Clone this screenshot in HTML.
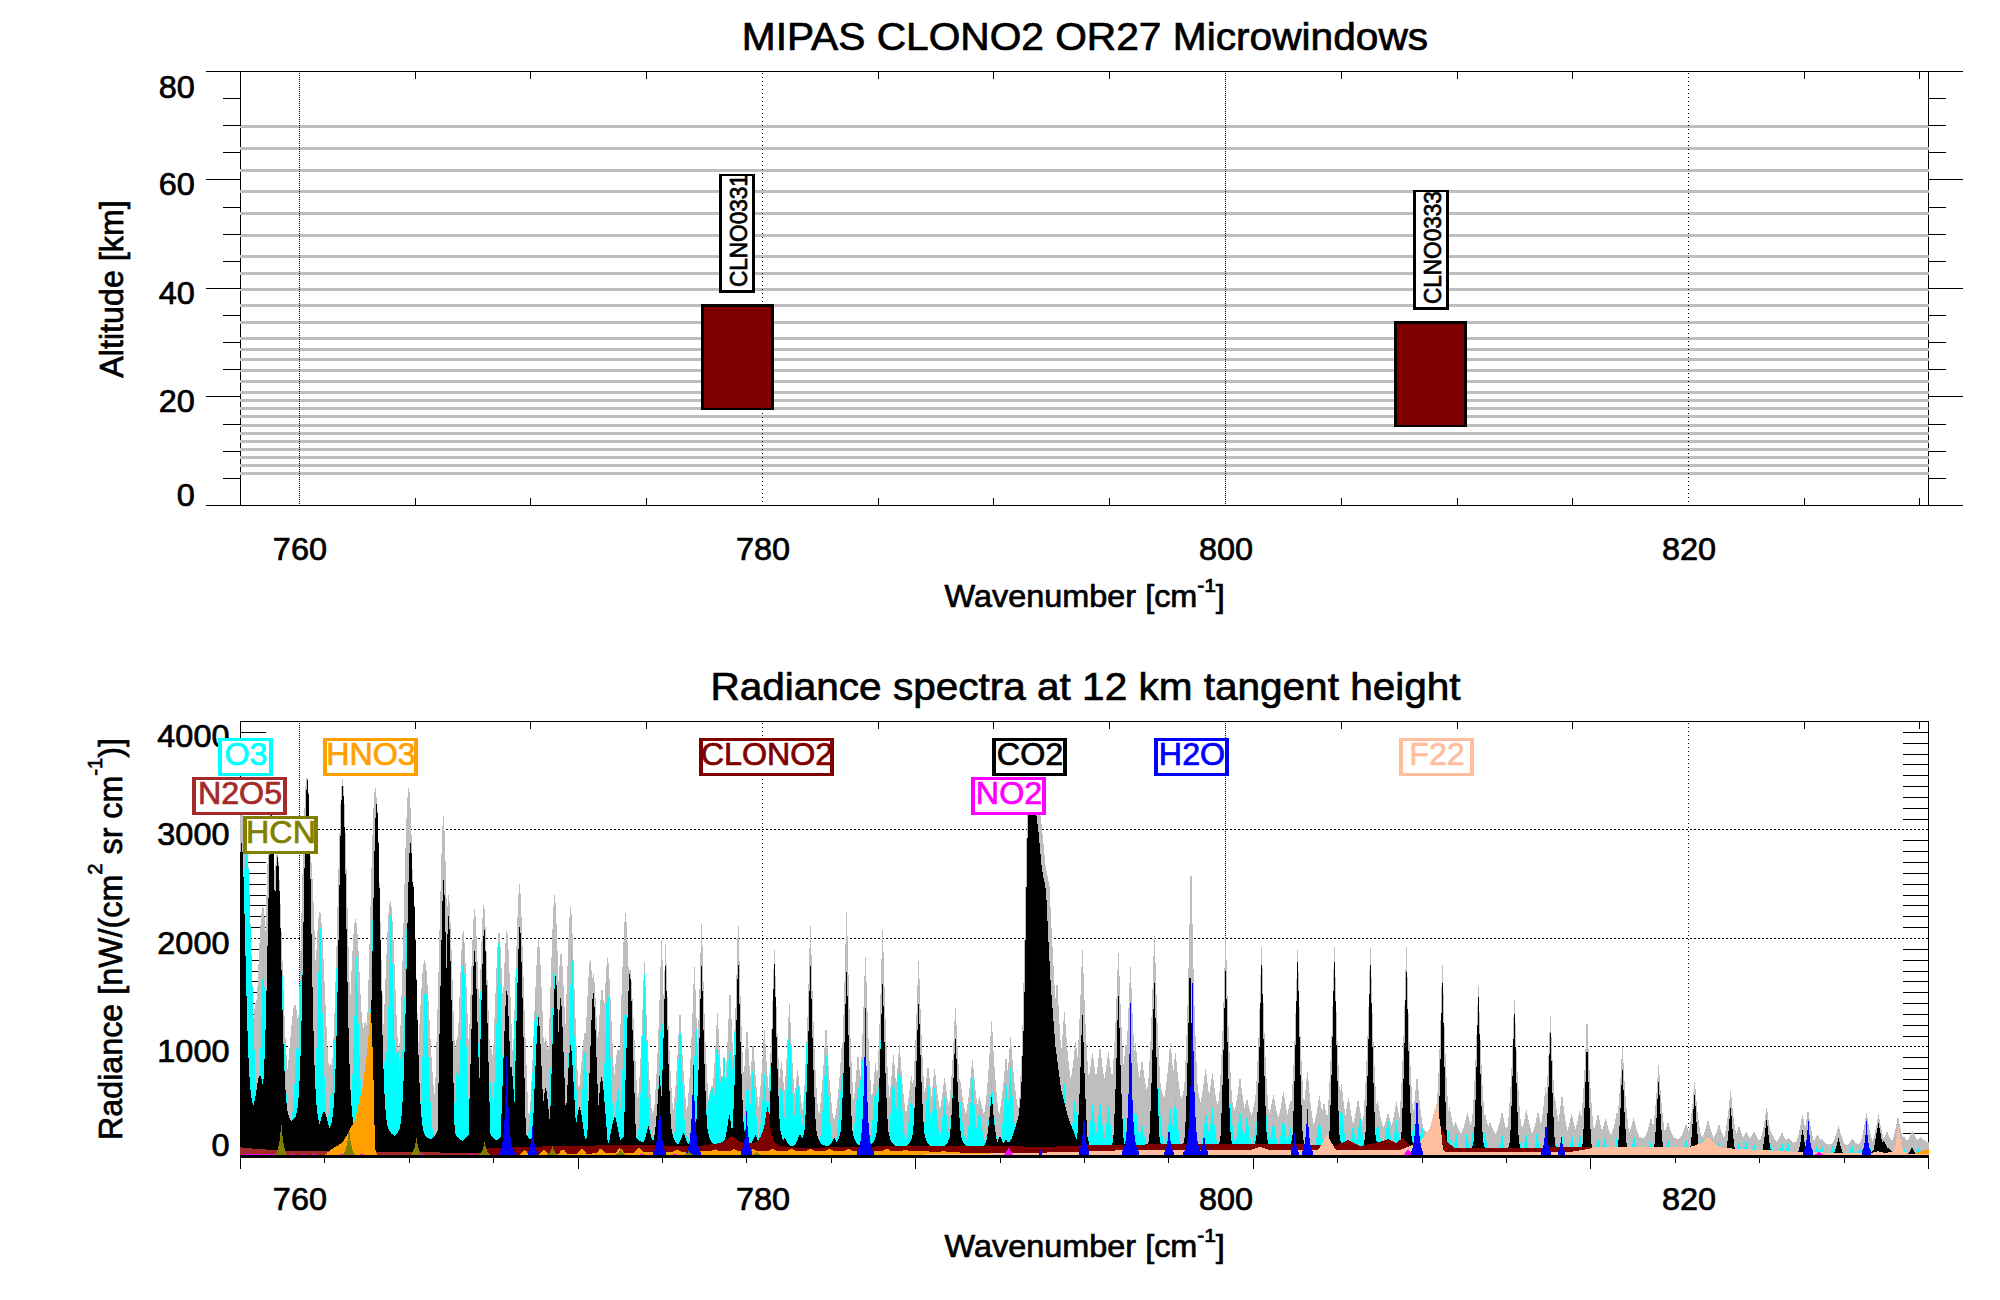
<!DOCTYPE html>
<html><head><meta charset="utf-8"><title>MIPAS CLONO2 OR27 Microwindows</title>
<style>html,body{margin:0;padding:0;background:#fff}svg{display:block}text{font-family:'Liberation Sans', sans-serif}</style>
</head><body>
<svg width="2000" height="1300" viewBox="0 0 2000 1300">
<rect width="2000" height="1300" fill="#fff"/>
<g shape-rendering="crispEdges">
<rect x="206" y="71" width="1757" height="1" fill="#000"/>
<rect x="206" y="505" width="1757" height="1" fill="#000"/>
<rect x="240" y="71" width="1" height="435" fill="#000"/>
<rect x="1928" y="71" width="1" height="435" fill="#000"/>
<rect x="240" y="472" width="1689" height="3" fill="#bebebe"/>
<rect x="240" y="464" width="1689" height="3" fill="#bebebe"/>
<rect x="240" y="456" width="1689" height="3" fill="#bebebe"/>
<rect x="240" y="448" width="1689" height="3" fill="#bebebe"/>
<rect x="240" y="440" width="1689" height="3" fill="#bebebe"/>
<rect x="240" y="432" width="1689" height="3" fill="#bebebe"/>
<rect x="240" y="424" width="1689" height="3" fill="#bebebe"/>
<rect x="240" y="415" width="1689" height="3" fill="#bebebe"/>
<rect x="240" y="407" width="1689" height="3" fill="#bebebe"/>
<rect x="240" y="399" width="1689" height="3" fill="#bebebe"/>
<rect x="240" y="391" width="1689" height="3" fill="#bebebe"/>
<rect x="240" y="380" width="1689" height="3" fill="#bebebe"/>
<rect x="240" y="369" width="1689" height="3" fill="#bebebe"/>
<rect x="240" y="358" width="1689" height="3" fill="#bebebe"/>
<rect x="240" y="348" width="1689" height="3" fill="#bebebe"/>
<rect x="240" y="337" width="1689" height="3" fill="#bebebe"/>
<rect x="240" y="321" width="1689" height="3" fill="#bebebe"/>
<rect x="240" y="304" width="1689" height="3" fill="#bebebe"/>
<rect x="240" y="288" width="1689" height="3" fill="#bebebe"/>
<rect x="240" y="272" width="1689" height="3" fill="#bebebe"/>
<rect x="240" y="255" width="1689" height="3" fill="#bebebe"/>
<rect x="240" y="234" width="1689" height="3" fill="#bebebe"/>
<rect x="240" y="212" width="1689" height="3" fill="#bebebe"/>
<rect x="240" y="190" width="1689" height="3" fill="#bebebe"/>
<rect x="240" y="169" width="1689" height="3" fill="#bebebe"/>
<rect x="240" y="147" width="1689" height="3" fill="#bebebe"/>
<rect x="240" y="125" width="1689" height="3" fill="#bebebe"/>
<rect x="206" y="505" width="35" height="1" fill="#000"/>
<rect x="1928" y="505" width="35" height="1" fill="#000"/>
<rect x="223" y="478" width="18" height="1" fill="#000"/>
<rect x="1928" y="478" width="18" height="1" fill="#000"/>
<rect x="223" y="451" width="18" height="1" fill="#000"/>
<rect x="1928" y="451" width="18" height="1" fill="#000"/>
<rect x="223" y="424" width="18" height="1" fill="#000"/>
<rect x="1928" y="424" width="18" height="1" fill="#000"/>
<rect x="206" y="396" width="35" height="1" fill="#000"/>
<rect x="1928" y="396" width="35" height="1" fill="#000"/>
<rect x="223" y="369" width="18" height="1" fill="#000"/>
<rect x="1928" y="369" width="18" height="1" fill="#000"/>
<rect x="223" y="342" width="18" height="1" fill="#000"/>
<rect x="1928" y="342" width="18" height="1" fill="#000"/>
<rect x="223" y="315" width="18" height="1" fill="#000"/>
<rect x="1928" y="315" width="18" height="1" fill="#000"/>
<rect x="206" y="288" width="35" height="1" fill="#000"/>
<rect x="1928" y="288" width="35" height="1" fill="#000"/>
<rect x="223" y="261" width="18" height="1" fill="#000"/>
<rect x="1928" y="261" width="18" height="1" fill="#000"/>
<rect x="223" y="234" width="18" height="1" fill="#000"/>
<rect x="1928" y="234" width="18" height="1" fill="#000"/>
<rect x="223" y="207" width="18" height="1" fill="#000"/>
<rect x="1928" y="207" width="18" height="1" fill="#000"/>
<rect x="206" y="179" width="35" height="1" fill="#000"/>
<rect x="1928" y="179" width="35" height="1" fill="#000"/>
<rect x="223" y="152" width="18" height="1" fill="#000"/>
<rect x="1928" y="152" width="18" height="1" fill="#000"/>
<rect x="223" y="125" width="18" height="1" fill="#000"/>
<rect x="1928" y="125" width="18" height="1" fill="#000"/>
<rect x="223" y="98" width="18" height="1" fill="#000"/>
<rect x="1928" y="98" width="18" height="1" fill="#000"/>
<rect x="206" y="71" width="35" height="1" fill="#000"/>
<rect x="1928" y="71" width="35" height="1" fill="#000"/>
<rect x="415" y="71" width="1" height="8" fill="#000"/>
<rect x="415" y="498" width="1" height="8" fill="#000"/>
<rect x="530" y="71" width="1" height="8" fill="#000"/>
<rect x="530" y="498" width="1" height="8" fill="#000"/>
<rect x="646" y="71" width="1" height="8" fill="#000"/>
<rect x="646" y="498" width="1" height="8" fill="#000"/>
<rect x="878" y="71" width="1" height="8" fill="#000"/>
<rect x="878" y="498" width="1" height="8" fill="#000"/>
<rect x="993" y="71" width="1" height="8" fill="#000"/>
<rect x="993" y="498" width="1" height="8" fill="#000"/>
<rect x="1109" y="71" width="1" height="8" fill="#000"/>
<rect x="1109" y="498" width="1" height="8" fill="#000"/>
<rect x="1341" y="71" width="1" height="8" fill="#000"/>
<rect x="1341" y="498" width="1" height="8" fill="#000"/>
<rect x="1457" y="71" width="1" height="8" fill="#000"/>
<rect x="1457" y="498" width="1" height="8" fill="#000"/>
<rect x="1572" y="71" width="1" height="8" fill="#000"/>
<rect x="1572" y="498" width="1" height="8" fill="#000"/>
<rect x="1804" y="71" width="1" height="8" fill="#000"/>
<rect x="1804" y="498" width="1" height="8" fill="#000"/>
<rect x="1919" y="71" width="1" height="8" fill="#000"/>
<rect x="1919" y="498" width="1" height="8" fill="#000"/>
</g>
<line x1="299.5" y1="73" x2="299.5" y2="505" stroke="#000" stroke-width="1" stroke-dasharray="1 1" shape-rendering="crispEdges"/>
<line x1="762.5" y1="73" x2="762.5" y2="505" stroke="#000" stroke-width="1" stroke-dasharray="1 3" shape-rendering="crispEdges"/>
<line x1="1225.5" y1="73" x2="1225.5" y2="505" stroke="#000" stroke-width="1" stroke-dasharray="1 1" shape-rendering="crispEdges"/>
<line x1="1688.5" y1="73" x2="1688.5" y2="505" stroke="#000" stroke-width="1" stroke-dasharray="1 3" shape-rendering="crispEdges"/>
<rect x="701" y="304" width="73" height="106" fill="#000" shape-rendering="crispEdges"/>
<rect x="704" y="307" width="67" height="101" fill="#800000" shape-rendering="crispEdges"/>
<rect x="1394" y="321" width="73" height="106" fill="#000" shape-rendering="crispEdges"/>
<rect x="1397" y="324" width="67" height="101" fill="#800000" shape-rendering="crispEdges"/>
<rect x="719" y="174" width="36" height="119" fill="#000" shape-rendering="crispEdges"/>
<rect x="722" y="176" width="30" height="114" fill="#fff" shape-rendering="crispEdges"/>
<text transform="translate(747,287) rotate(-90) scale(0.94,1)" font-size="24" text-anchor="start" fill="#000" stroke="#000" stroke-width="0.7">CLNO0331</text>
<rect x="1413" y="190" width="36" height="120" fill="#000" shape-rendering="crispEdges"/>
<rect x="1416" y="192" width="30" height="115" fill="#fff" shape-rendering="crispEdges"/>
<text transform="translate(1441,304) rotate(-90) scale(0.94,1)" font-size="24" text-anchor="start" fill="#000" stroke="#000" stroke-width="0.7">CLNO0333</text>
<text transform="translate(1085,50) scale(1.065,1)" font-size="38.2" text-anchor="middle" fill="#000" stroke="#000" stroke-width="0.7">MIPAS CLONO2 OR27 Microwindows</text>
<text transform="translate(194.8,97.5) scale(1.03,1)" font-size="31.5" text-anchor="end" fill="#000" stroke="#000" stroke-width="0.7">80</text>
<text transform="translate(194.8,195) scale(1.03,1)" font-size="31.5" text-anchor="end" fill="#000" stroke="#000" stroke-width="0.7">60</text>
<text transform="translate(194.8,303.5) scale(1.03,1)" font-size="31.5" text-anchor="end" fill="#000" stroke="#000" stroke-width="0.7">40</text>
<text transform="translate(194.8,412) scale(1.03,1)" font-size="31.5" text-anchor="end" fill="#000" stroke="#000" stroke-width="0.7">20</text>
<text transform="translate(194.8,506) scale(1.03,1)" font-size="31.5" text-anchor="end" fill="#000" stroke="#000" stroke-width="0.7">0</text>
<text transform="translate(299.9,560) scale(1.03,1)" font-size="31.5" text-anchor="middle" fill="#000" stroke="#000" stroke-width="0.7">760</text>
<text transform="translate(762.96,560) scale(1.03,1)" font-size="31.5" text-anchor="middle" fill="#000" stroke="#000" stroke-width="0.7">780</text>
<text transform="translate(1226.02,560) scale(1.03,1)" font-size="31.5" text-anchor="middle" fill="#000" stroke="#000" stroke-width="0.7">800</text>
<text transform="translate(1689.08,560) scale(1.03,1)" font-size="31.5" text-anchor="middle" fill="#000" stroke="#000" stroke-width="0.7">820</text>
<text transform="translate(944.5,607) scale(1.02,1)" font-size="31.8" text-anchor="start" fill="#000" stroke="#000" stroke-width="0.7">Wavenumber [cm</text>
<text transform="translate(1197.3,592.4) scale(1.2,1)" font-size="17.6" text-anchor="start" fill="#000" stroke="#000" stroke-width="0.7">-1</text>
<text transform="translate(1215.8,607) scale(1.02,1)" font-size="31.8" text-anchor="start" fill="#000" stroke="#000" stroke-width="0.7">]</text>
<text transform="translate(123,289) rotate(-90) scale(0.99,1)" font-size="32.6" text-anchor="middle" fill="#000" stroke="#000" stroke-width="0.7">Altitude [km]</text>
<g shape-rendering="crispEdges">
<rect x="240" y="721" width="1689" height="1" fill="#000"/>
<rect x="240" y="721" width="1" height="435" fill="#000"/>
<rect x="1928" y="721" width="1" height="435" fill="#000"/>
<rect x="240" y="1144" width="26" height="1" fill="#000"/>
<rect x="1903" y="1144" width="26" height="1" fill="#000"/>
<rect x="240" y="1133" width="26" height="1" fill="#000"/>
<rect x="1903" y="1133" width="26" height="1" fill="#000"/>
<rect x="240" y="1122" width="26" height="1" fill="#000"/>
<rect x="1903" y="1122" width="26" height="1" fill="#000"/>
<rect x="240" y="1112" width="26" height="1" fill="#000"/>
<rect x="1903" y="1112" width="26" height="1" fill="#000"/>
<rect x="240" y="1101" width="26" height="1" fill="#000"/>
<rect x="1903" y="1101" width="26" height="1" fill="#000"/>
<rect x="240" y="1090" width="26" height="1" fill="#000"/>
<rect x="1903" y="1090" width="26" height="1" fill="#000"/>
<rect x="240" y="1079" width="26" height="1" fill="#000"/>
<rect x="1903" y="1079" width="26" height="1" fill="#000"/>
<rect x="240" y="1068" width="26" height="1" fill="#000"/>
<rect x="1903" y="1068" width="26" height="1" fill="#000"/>
<rect x="240" y="1057" width="26" height="1" fill="#000"/>
<rect x="1903" y="1057" width="26" height="1" fill="#000"/>
<rect x="240" y="1036" width="26" height="1" fill="#000"/>
<rect x="1903" y="1036" width="26" height="1" fill="#000"/>
<rect x="240" y="1025" width="26" height="1" fill="#000"/>
<rect x="1903" y="1025" width="26" height="1" fill="#000"/>
<rect x="240" y="1014" width="26" height="1" fill="#000"/>
<rect x="1903" y="1014" width="26" height="1" fill="#000"/>
<rect x="240" y="1003" width="26" height="1" fill="#000"/>
<rect x="1903" y="1003" width="26" height="1" fill="#000"/>
<rect x="240" y="992" width="26" height="1" fill="#000"/>
<rect x="1903" y="992" width="26" height="1" fill="#000"/>
<rect x="240" y="981" width="26" height="1" fill="#000"/>
<rect x="1903" y="981" width="26" height="1" fill="#000"/>
<rect x="240" y="971" width="26" height="1" fill="#000"/>
<rect x="1903" y="971" width="26" height="1" fill="#000"/>
<rect x="240" y="960" width="26" height="1" fill="#000"/>
<rect x="1903" y="960" width="26" height="1" fill="#000"/>
<rect x="240" y="949" width="26" height="1" fill="#000"/>
<rect x="1903" y="949" width="26" height="1" fill="#000"/>
<rect x="240" y="927" width="26" height="1" fill="#000"/>
<rect x="1903" y="927" width="26" height="1" fill="#000"/>
<rect x="240" y="916" width="26" height="1" fill="#000"/>
<rect x="1903" y="916" width="26" height="1" fill="#000"/>
<rect x="240" y="905" width="26" height="1" fill="#000"/>
<rect x="1903" y="905" width="26" height="1" fill="#000"/>
<rect x="240" y="895" width="26" height="1" fill="#000"/>
<rect x="1903" y="895" width="26" height="1" fill="#000"/>
<rect x="240" y="884" width="26" height="1" fill="#000"/>
<rect x="1903" y="884" width="26" height="1" fill="#000"/>
<rect x="240" y="873" width="26" height="1" fill="#000"/>
<rect x="1903" y="873" width="26" height="1" fill="#000"/>
<rect x="240" y="862" width="26" height="1" fill="#000"/>
<rect x="1903" y="862" width="26" height="1" fill="#000"/>
<rect x="240" y="851" width="26" height="1" fill="#000"/>
<rect x="1903" y="851" width="26" height="1" fill="#000"/>
<rect x="240" y="840" width="26" height="1" fill="#000"/>
<rect x="1903" y="840" width="26" height="1" fill="#000"/>
<rect x="240" y="819" width="26" height="1" fill="#000"/>
<rect x="1903" y="819" width="26" height="1" fill="#000"/>
<rect x="240" y="808" width="26" height="1" fill="#000"/>
<rect x="1903" y="808" width="26" height="1" fill="#000"/>
<rect x="240" y="797" width="26" height="1" fill="#000"/>
<rect x="1903" y="797" width="26" height="1" fill="#000"/>
<rect x="240" y="786" width="26" height="1" fill="#000"/>
<rect x="1903" y="786" width="26" height="1" fill="#000"/>
<rect x="240" y="775" width="26" height="1" fill="#000"/>
<rect x="1903" y="775" width="26" height="1" fill="#000"/>
<rect x="240" y="764" width="26" height="1" fill="#000"/>
<rect x="1903" y="764" width="26" height="1" fill="#000"/>
<rect x="240" y="754" width="26" height="1" fill="#000"/>
<rect x="1903" y="754" width="26" height="1" fill="#000"/>
<rect x="240" y="743" width="26" height="1" fill="#000"/>
<rect x="1903" y="743" width="26" height="1" fill="#000"/>
<rect x="240" y="732" width="26" height="1" fill="#000"/>
<rect x="1903" y="732" width="26" height="1" fill="#000"/>
<rect x="415" y="721" width="1" height="8" fill="#000"/>
<rect x="530" y="721" width="1" height="8" fill="#000"/>
<rect x="646" y="721" width="1" height="8" fill="#000"/>
<rect x="878" y="721" width="1" height="8" fill="#000"/>
<rect x="993" y="721" width="1" height="8" fill="#000"/>
<rect x="1109" y="721" width="1" height="8" fill="#000"/>
<rect x="1341" y="721" width="1" height="8" fill="#000"/>
<rect x="1457" y="721" width="1" height="8" fill="#000"/>
<rect x="1572" y="721" width="1" height="8" fill="#000"/>
<rect x="1804" y="721" width="1" height="8" fill="#000"/>
<rect x="1919" y="721" width="1" height="8" fill="#000"/>
</g>
<line x1="242" y1="1046.5" x2="1928" y2="1046.5" stroke="#000" stroke-width="1" stroke-dasharray="2 2" shape-rendering="crispEdges"/>
<line x1="242" y1="938.5" x2="1928" y2="938.5" stroke="#000" stroke-width="1" stroke-dasharray="2 2" shape-rendering="crispEdges"/>
<line x1="242" y1="829.5" x2="1928" y2="829.5" stroke="#000" stroke-width="1" stroke-dasharray="2 2" shape-rendering="crispEdges"/>
<line x1="299.5" y1="723" x2="299.5" y2="1155" stroke="#000" stroke-width="1" stroke-dasharray="1 1" shape-rendering="crispEdges"/>
<line x1="762.5" y1="723" x2="762.5" y2="1155" stroke="#000" stroke-width="1" stroke-dasharray="1 3" shape-rendering="crispEdges"/>
<line x1="1225.5" y1="723" x2="1225.5" y2="1155" stroke="#000" stroke-width="1" stroke-dasharray="1 1" shape-rendering="crispEdges"/>
<line x1="1688.5" y1="723" x2="1688.5" y2="1155" stroke="#000" stroke-width="1" stroke-dasharray="1 3" shape-rendering="crispEdges"/>
<g shape-rendering="crispEdges">
<path d="M240,1155V780H241V782H242V797H243V821H244V853H245V845H246V836H247V845H248V867H249V894H250V924H251V954H252V985H253V1017H254V1009H255V1003H256V1000H257V986H258V964H259V943H260V925H261V913H262V907H263V908H264V917H265V931H266V896H267V864H268V835H269V815H270V805H271V806H272V818H273V841H274V870H275V865H276V855H277V854H278V862H279V880H280V904H281V932H282V961H283V990H284V1016H285V1038H286V1055H287V1069H288V1060H289V1048H290V1037H291V1025H292V1016H293V1008H294V1005H296V1010H297V1018H298V1015H299V986H300V951H301V913H302V874H303V838H304V808H305V787H306V778H308V792H309V825H310V856H311V863H312V879H313V902H314V930H315V960H316V950H317V931H318V918H319V912H320V913H321V923H322V938H323V959H324V982H325V1005H326V1027H327V1047H328V1063H329V1065H330V1064H331V1065H332V1058H333V1038H334V1013H335V982H336V946H337V907H338V869H339V833H340V804H341V786H342V779H343V786H344V804H345V833H346V869H347V908H348V947H349V982H350V994H351V971H352V951H353V934H354V923H355V919H356V923H357V934H358V951H359V972H360V994H361V1012H362V1023H363V1028H364V1023H365V1022H366V1025H367V1012H368V980H369V944H370V906H371V868H372V835H373V808H374V792H375V788H376V797H377V811H378V841H379V883H380V922H381V960H382V994H383V1024H384V1004H385V979H386V954H387V932H388V914H389V904H390V901H391V907H392V921H393V940H394V964H395V990H396V1015H397V1037H398V1050H399V1043H400V1025H401V995H402V961H403V923H404V884H405V848H406V818H407V797H408V788H409V792H410V808H411V835H412V869H413V885H414V905H415V938H416V978H417V1013H418V1042H419V1024H420V1005H421V988H422V973H423V964H424V960H425V963H426V971H427V985H428V1001H429V1020H430V1039H431V1057H432V1072H433V1085H434V1094H435V1077H436V1042H437V1009H438V972H439V930H440V891H441V854H442V826H443V816H444V831H445V861H446V898H447V906H448V895H449V902H450V923H451V950H452V980H453V1011H454V1040H455V1048H456V1040H457V1037H458V1023H459V997H460V972H461V950H462V934H463V931H464V943H465V963H466V987H467V1013H468V1039H469V1024H470V995H471V966H472V940H473V919H474V909H475V916H476V936H477V961H478V989H479V998H480V969H481V941H482V918H483V905H484V909H485V927H486V952H487V980H488V1010H489V1039H490V1048H491V1049H492V1055H493V1045H494V1018H495V993H496V968H497V947H498V933H500V947H501V968H502V993H503V987H504V963H505V943H506V931H507V934H508V950H509V973H510V997H511V1024H512V1050H513V1039H514V1010H515V977H516V946H517V917H518V894H519V884H520V894H521V917H522V946H523V977H524V1010H525V1039H526V1065H527V1092H528V1113H529V1114H530V1101H531V1081H532V1060H533V1036H534V1011H535V987H536V965H537V947H538V940H539V947H540V965H541V987H542V1011H543V1037H544V1042H545V1038H546V1041H547V1049H548V1046H549V1018H550V987H551V957H552V929H553V906H554V895H555V903H556V924H557V951H558V981H559V966H560V954H562V966H563V986H564V1007H565V1024H566V994H567V966H568V939H569V917H570V907H571V914H572V934H573V960H574V989H575V1018H576V1046H577V1070H578V1087H579V1085H580V1074H581V1062H582V1050H583V1040H584V1033H586V1017H587V996H588V977H589V963H590V960H591V970H592V978H593V974H594V982H595V998H596V1017H597V1037H598V1032H599V1015H600V1000H601V990H603V1000H604V1003H605V983H606V966H607V958H608V963H609V979H610V999H611V1021H612V1043H613V1066H614V1074H615V1064H616V1055H617V1050H620V1024H621V995H622V967H623V942H624V922H625V913H626V922H627V942H628V967H629V970H631V981H632V999H633V1018H634V1040H635V1061H636V1080H637V1097H638V1093H639V1077H640V1058H641V1036H642V1010H643V980H644V962H645V986H646V1015H647V1040H648V1062H649V1080H650V1095H651V1108H652V1113H653V1111H654V1105H655V1090H656V1074H657V1053H658V1029H659V1000H660V967H661V940H662V960H663V994H664V971H665V944H666V964H667V997H668V1026H669V1050H670V1071H671V1088H672V1103H673V1109H674V1098H675V1086H676V1071H677V1055H678V1035H679V1015H681V1035H682V1055H683V1071H684V1085H685V1098H686V1109H687V1106H688V1093H689V1078H690V1059H691V1038H692V1013H693V984H694V967H695V990H696V1018H697V1043H698V1020H699V989H700V953H701V924H702V946H703V982H704V1014H705V1042H706V1064H707V1083H708V1099H709V1094H710V1090H711V1086H713V1078H714V1063H715V1045H716V1025H717V1013H718V1029H719V1049H720V1067H721V1076H723V1057H725V1077H726V1062H727V1042H728V1019H729V995H731V1019H732V1042H733V1055H734V1030H735V1008H736V975H737V938H738V926H739V961H740V996H741V1026H742V1052H743V1072H744V1066H745V1049H746V1032H748V1049H749V1066H750V1075H751V1061H752V1046H754V1061H755V1075H756V1087H757V1097H758V1106H759V1097H760V1086H761V1073H762V1058H763V1040H764V1030H765V1044H766V1061H767V1076H768V1088H769V1074H770V1053H771V1029H772V1001H773V969H774V950H775V976H776V1007H777V1034H778V1058H779V1077H780V1068H781V1061H782V1070H783V1082H784V1090H785V1076H786V1059H787V1040H788V1017H789V1004H790V1022H791V1044H792V1063H793V1079H794V1093H795V1088H796V1078H797V1070H798V1076H799V1086H800V1095H801V1103H802V1109H803V1101H804V1085H805V1064H806V1041H807V1017H808V984H809V948H810V926H811V955H812V991H813V1022H814V1049H815V1070H816V1088H817V1104H818V1111H819V1113H820V1103H821V1092H822V1080H823V1065H824V1048H825V1030H827V1048H828V1065H829V1080H830V1092H831V1103H832V1113H833V1118H834V1119H835V1115H836V1108H837V1099H838V1089H839V1077H840V1063H841V1048H842V1043H843V1015H844V982H845V944H846V912H847V936H848V975H849V1009H850V1038H851V1062H852V1082H853V1099H854V1093H855V1082H856V1070H857V1057H859V1070H860V1076H861V1057H862V1034H863V1007H864V976H865V957H866V982H867V1012H868V1039H869V1061H870V1080H871V1095H872V1093H873V1084H874V1072H875V1063H876V1070H877V1071H878V1050H879V1024H880V994H881V959H882V930H883V952H884V987H885V1019H886V1045H887V1067H888V1085H889V1097H890V1087H891V1076H892V1063H893V1055H894V1065H895V1078H896V1081H897V1068H898V1054H899V1045H900V1057H901V1071H902V1084H903V1094H904V1103H905V1111H907V1105H908V1098H909V1090H910V1081H911V1076H912V1083H913V1080H914V1061H915V1040H916V1014H917V985H918V961H919V979H920V1009H921V1035H922V1057H923V1076H924V1092H925V1088H926V1078H927V1068H929V1078H930V1088H931V1096H932V1087H933V1077H934V1069H935V1075H936V1085H937V1094H938V1101H939V1108H940V1106H941V1100H942V1093H943V1085H944V1078H945V1083H946V1091H947V1099H948V1105H949V1101H950V1090H951V1076H952V1060H953V1042H954V1021H955V1008H956V1025H957V1046H958V1064H959V1079H960V1082H961V1089H962V1097H963V1103H964V1108H965V1113H966V1111H967V1104H968V1097H969V1088H970V1078H971V1067H972V1060H973V1069H974V1080H975V1090H976V1098H977V1104H978V1100H979V1097H980V1101H981V1105H982V1109H983V1113H984V1112H985V1105H986V1095H987V1083H988V1070H989V1054H990V1036H991V1021H992V1032H993V1051H994V1067H995V1080H996V1092H997V1103H998V1111H999V1113H1000V1107H1001V1099H1002V1091H1003V1082H1004V1071H1005V1059H1007V1070H1008V1063H1009V1049H1010V1037H1011V1046H1012V1060H1013V1072H1014V1083H1015V1091H1016V1099H1017V1105H1018V1107H1019V1097H1020V1076H1021V1056H1022V1025H1023V983H1024V940H1025V887H1026V838H1027V814H1028V812H1029V811H1030V810H1036V809H1038V808H1040V816H1041V824H1042V834H1043V844H1044V855H1045V866H1046V871H1047V876H1048V881H1049V886H1050V907H1051V928H1052V947H1053V966H1054V985H1055V998H1056V985H1058V1005H1059V1024H1060V1040H1061V1048H1062V1035H1063V1021H1064V1012H1065V1024H1066V1038H1067V1051H1068V1061H1069V1070H1070V1078H1071V1075H1072V1068H1073V1060H1074V1050H1075V1042H1076V1048H1077V1057H1078V1040H1079V1019H1080V995H1081V967H1082V950H1083V973H1084V1000H1085V1024H1086V1044H1087V1061H1088V1075H1089V1073H1090V1066H1091V1058H1092V1053H1093V1059H1094V1067H1095V1074H1097V1067H1098V1058H1099V1049H1101V1058H1102V1067H1103V1074H1104V1078H1105V1072H1106V1065H1107V1057H1108V1052H1109V1059H1110V1067H1111V1074H1113V1059H1114V1042H1115V1022H1116V998H1117V970H1118V953H1119V976H1120V1004H1121V1027H1122V1047H1123V1064H1124V1056H1125V1045H1127V1031H1128V1008H1129V983H1130V967H1131V988H1132V1013H1133V1035H1134V1050H1135V1043H1136V1052H1137V1063H1138V1072H1139V1077H1140V1070H1141V1062H1143V1070H1144V1078H1145V1084H1146V1089H1147V1087H1148V1078H1149V1061H1150V1041H1151V1017H1152V989H1153V956H1154V936H1155V963H1156V995H1157V1023H1158V1046H1159V1066H1160V1083H1161V1090H1162V1094H1163V1097H1164V1096H1165V1090H1166V1082H1167V1073H1168V1063H1169V1050H1170V1043H1171V1053H1172V1065H1173V1070H1174V1059H1175V1053H1176V1062H1177V1072H1178V1081H1179V1089H1180V1096H1181V1098H1182V1095H1183V1091H1184V1082H1185V1061H1186V1035H1187V1006H1188V968H1189V924H1190V876H1192V924H1193V969H1194V1006H1195V1036H1196V1062H1197V1084H1198V1093H1199V1098H1200V1102H1201V1097H1202V1091H1203V1084H1204V1076H1205V1069H1206V1074H1207V1083H1208V1091H1209V1093H1210V1086H1211V1078H1212V1073H1213V1080H1214V1088H1215V1095H1216V1101H1217V1104H1218V1101H1219V1092H1220V1075H1221V1055H1222V1031H1223V1002H1224V968H1225V939H1226V960H1227V996H1228V1026H1229V1052H1230V1072H1231V1090H1232V1102H1233V1107H1234V1110H1235V1107H1236V1101H1237V1095H1238V1087H1239V1079H1241V1088H1242V1095H1243V1102H1244V1108H1245V1104H1246V1100H1248V1105H1249V1109H1250V1112H1251V1115H1252V1112H1253V1107H1254V1102H1255V1095H1256V1081H1257V1061H1258V1038H1259V1009H1260V975H1261V947H1262V968H1263V1003H1264V1033H1265V1057H1266V1078H1267V1095H1268V1109H1269V1113H1270V1109H1271V1104H1272V1099H1273V1095H1274V1100H1275V1106H1276V1111H1277V1115H1278V1117H1279V1113H1280V1109H1281V1103H1282V1096H1283V1092H1284V1098H1285V1104H1286V1110H1287V1114H1288V1109H1289V1104H1290V1101H1292V1084H1293V1065H1294V1041H1295V1013H1296V979H1297V950H1298V972H1299V1007H1300V1036H1301V1061H1302V1081H1303V1099H1304V1100H1305V1090H1306V1079H1307V1072H1308V1081H1309V1093H1310V1103H1311V1111H1312V1118H1313V1124H1314V1122H1315V1118H1316V1113H1317V1107H1318V1100H1319V1096H1320V1102H1321V1108H1322V1110H1323V1104H1325V1110H1326V1115H1328V1100H1329V1082H1330V1061H1331V1035H1332V1006H1333V969H1334V947H1335V977H1336V1012H1337V1041H1338V1065H1339V1086H1340V1090H1341V1084H1342V1092H1343V1101H1344V1109H1345V1115H1346V1109H1347V1102H1348V1098H1349V1103H1350V1110H1351V1116H1352V1121H1353V1123H1354V1118H1355V1113H1356V1107H1357V1101H1359V1107H1360V1113H1361V1119H1362V1121H1363V1116H1364V1100H1365V1083H1366V1061H1367V1036H1368V1007H1369V970H1370V948H1371V978H1372V1013H1373V1042H1374V1066H1375V1086H1376V1104H1377V1101H1378V1105H1379V1111H1380V1117H1381V1121H1382V1125H1383V1127H1384V1125H1385V1122H1386V1118H1387V1114H1389V1118H1390V1122H1391V1125H1392V1122H1393V1117H1394V1112H1395V1106H1396V1102H1397V1107H1398V1113H1399V1117H1400V1101H1401V1083H1402V1061H1403V1036H1404V1006H1405V970H1406V947H1407V977H1408V1013H1409V1042H1410V1066H1411V1087H1412V1104H1413V1110H1414V1101H1415V1090H1416V1079H1418V1090H1419V1101H1420V1110H1421V1117H1422V1124H1423V1129H1424V1130H1425V1131H1426V1132H1427V1133H1429V1132H1431V1131H1432V1129H1433V1128H1434V1125H1435V1122H1436V1110H1437V1093H1438V1073H1439V1049H1440V1020H1441V987H1442V965H1443V994H1444V1026H1445V1054H1446V1077H1447V1096H1448V1111H1449V1107H1450V1112H1451V1117H1452V1122H1453V1126H1454V1124H1455V1122H1456V1124H1457V1127H1458V1129H1459V1131H1460V1133H1462V1130H1463V1128H1464V1124H1465V1120H1466V1116H1467V1113H1468V1117H1469V1121H1470V1125H1471V1122H1472V1114H1473V1099H1474V1081H1475V1060H1476V1035H1477V1005H1478V986H1479V1012H1480V1040H1481V1065H1482V1085H1483V1102H1484V1115H1486V1120H1487V1124H1488V1126H1489V1123H1491V1126H1492V1128H1493V1131H1494V1132H1495V1134H1496V1132H1497V1130H1498V1126H1499V1123H1500V1118H1501V1113H1503V1118H1504V1123H1505V1127H1506V1128H1507V1126H1508V1117H1509V1103H1510V1087H1511V1068H1512V1045H1513V1017H1514V1000H1515V1023H1516V1050H1517V1072H1518V1090H1519V1106H1520V1119H1521V1126H1522V1127H1523V1124H1524V1119H1525V1113H1526V1110H1527V1115H1528V1120H1529V1124H1530V1128H1531V1132H1532V1133H1533V1130H1534V1127H1535V1123H1536V1118H1537V1113H1539V1118H1540V1123H1541V1121H1542V1114H1543V1106H1544V1096H1545V1087H1546V1093H1547V1076H1548V1056H1549V1032H1550V1016H1551V1037H1552V1060H1553V1080H1554V1097H1555V1101H1556V1109H1557V1116H1558V1121H1559V1114H1560V1106H1561V1097H1563V1106H1564V1114H1565V1121H1566V1126H1567V1130H1568V1127H1569V1123H1570V1118H1571V1114H1572V1117H1573V1122H1574V1126H1575V1129H1576V1125H1577V1121H1578V1116H1579V1111H1580V1114H1581V1116H1582V1103H1583V1088H1584V1070H1585V1049H1586V1024H1588V1049H1589V1070H1590V1088H1591V1103H1592V1116H1593V1127H1594V1128H1595V1125H1596V1120H1597V1115H1599V1120H1600V1125H1601V1129H1603V1126H1604V1122H1605V1119H1606V1121H1607V1125H1608V1129H1609V1132H1610V1134H1612V1131H1613V1128H1614V1124H1615V1119H1616V1113H1618V1106H1619V1093H1620V1078H1621V1059H1622V1047H1623V1063H1624V1081H1625V1096H1626V1108H1627V1119H1628V1128H1629V1132H1630V1129H1631V1126H1632V1122H1633V1118H1634V1121H1635V1125H1636V1129H1637V1132H1638V1134H1639V1137H1641V1138H1644V1137H1645V1136H1646V1133H1647V1131H1648V1127H1649V1123H1650V1119H1652V1124H1654V1115H1655V1105H1656V1093H1657V1078H1658V1065H1659V1075H1660V1090H1661V1103H1662V1113H1663V1122H1664V1130H1666V1127H1667V1123H1669V1127H1670V1130H1671V1133H1672V1135H1673V1137H1674V1138H1676V1139H1679V1138H1680V1137H1681V1136H1682V1134H1683V1131H1684V1128H1685V1125H1687V1128H1688V1131H1689V1128H1690V1122H1691V1113H1692V1104H1693V1092H1694V1082H1695V1089H1696V1101H1697V1112H1698V1120H1699V1127H1700V1133H1701V1136H1702V1137H1703V1135H1704V1132H1705V1129H1706V1125H1707V1121H1709V1125H1710V1129H1711V1132H1712V1135H1713V1138H1714V1136H1715V1134H1716V1132H1717V1129H1718V1125H1720V1129H1721V1132H1722V1134H1723V1137H1724V1136H1725V1131H1726V1125H1727V1118H1728V1110H1729V1100H1730V1091H1731V1097H1732V1108H1733V1117H1734V1124H1735V1130H1736V1133H1737V1130H1738V1127H1740V1130H1741V1133H1742V1136H1743V1137H1744V1135H1745V1133H1746V1132H1747V1134H1748V1136H1749V1137H1750V1138H1751V1136H1752V1134H1753V1132H1755V1134H1756V1136H1757V1138H1758V1140H1760V1139H1761V1136H1762V1132H1763V1127H1764V1121H1765V1114H1766V1108H1767V1112H1768V1120H1769V1126H1770V1131H1771V1133H1772V1135H1773V1137H1774V1139H1775V1140H1776V1142H1777V1140H1778V1139H1779V1137H1780V1136H1781V1133H1783V1136H1784V1138H1785V1139H1786V1140H1787V1139H1788V1138H1789V1139H1790V1140H1791V1141H1792V1142H1793V1143H1794V1142H1796V1141H1797V1138H1798V1135H1799V1130H1800V1125H1801V1119H1802V1115H1803V1119H1804V1125H1805V1126H1806V1119H1807V1112H1809V1119H1810V1126H1811V1131H1812V1136H1813V1140H1815V1138H1816V1136H1817V1135H1818V1136H1819V1138H1820V1140H1821V1139H1823V1141H1824V1142H1825V1143H1826V1144H1828V1145H1829V1144H1832V1143H1833V1141H1834V1139H1835V1136H1836V1133H1837V1129H1838V1126H1839V1129H1840V1133H1841V1136H1842V1139H1843V1142H1844V1144H1846V1145H1848V1144H1849V1143H1850V1141H1851V1140H1852V1139H1853V1140H1854V1141H1855V1143H1857V1144H1859V1143H1860V1142H1861V1139H1862V1135H1863V1130H1864V1124H1865V1118H1866V1113H1867V1118H1868V1124H1869V1130H1870V1134H1871V1138H1872V1141H1873V1138H1874V1135H1875V1130H1876V1125H1877V1119H1878V1114H1879V1119H1880V1125H1881V1130H1882V1134H1883V1138H1884V1137H1885V1135H1886V1132H1888V1135H1889V1137H1890V1139H1891V1140H1893V1137H1894V1133H1895V1129H1896V1124H1897V1118H1899V1124H1900V1129H1901V1133H1902V1136H1903V1137H1905V1139H1906V1140H1908V1139H1909V1137H1910V1135H1911V1133H1912V1131H1913V1133H1914V1135H1915V1137H1916V1139H1917V1140H1918V1139H1919V1138H1920V1137H1921V1138H1922V1139H1923V1140H1925V1141H1926V1142H1929V1155Z" fill="#bebebe"/>
<path d="M240,1155V987H241V956H242V926H243V896H244V869H245V847H246V838H247V847H248V869H249V896H250V926H251V956H252V987H253V1019H254V1050H255V1082H256V1114H257V1116H258V1097H259V1074H260V1048H261V1016H262V979H263V957H264V987H265V1023H266V1053H267V1079H268V1101H269V1120H270V1128H271V1132H272V1134H273V1132H274V1129H275V1124H276V1106H277V1085H278V1061H279V1032H280V997H281V964H282V976H283V1012H284V1044H285V1071H286V1094H287V1113H288V1126H289V1130H290V1133H291V1123H292V1112H293V1099H294V1084H295V1066H296V1048H297V1054H298V1050H299V1018H300V981H301V950H302V973H303V1011H304V1044H305V1072H306V1095H307V1116H308V1126H309V1131H310V1134H311V1131H312V1127H313V1121H314V1102H315V1077H316V1048H317V1013H318V972H319V928H321V972H322V1013H323V1048H324V1077H325V1102H326V1121H327V1123H328V1115H329V1106H330V1095H331V1088H332V1093H333V1069H334V1040H335V1007H336V968H337V950H338V984H339V1021H340V1052H341V1079H342V1101H343V1121H344V1128H345V1132H346V1135H347V1134H348V1131H349V1127H350V1117H351V1097H352V1074H353V1048H354V1016H355V979H356V957H357V987H358V1023H359V1054H360V1079H361V1101H362V1121H363V1128H364V1131H365V1126H366V1120H367V1101H368V1075H369V1044H370V1009H371V966H372V920H374V966H375V1009H376V1044H377V1075H378V1101H379V1114H380V1104H381V1093H382V1082H383V1071H384V1061H385V1052H387V1043H388V1006H389V963H390V916H392V963H393V1006H394V1040H395V1046H396V1053H397V1052H399V1069H400V1059H401V1050H403V1034H404V997H405V955H406V929H407V964H408V1005H409V1040H410V1070H411V1095H412V1117H413V1126H414V1130H415V1134H416V1135H417V1133H418V1129H419V1121H420V1102H421V1082H422V1057H423V1028H424V994H425V969H426V994H427V1028H428V1057H429V1082H430V1102H431V1121H432V1129H433V1133H434V1136H435V1135H436V1132H437V1129H438V1123H439V1104H440V1082H441V1055H442V1025H443V988H444V952H445V964H446V1003H447V1038H448V1066H449V1091H450V1112H451V1126H452V1124H453V1114H454V1102H455V1089H456V1073H457V1063H458V1076H459V1069H460V1040H461V1006H462V966H463V942H464V974H465V1013H466V1047H467V1074H468V1098H469V1119H470V1127H471V1132H472V1134H473V1131H474V1124H475V1108H476V1090H477V1068H478V1043H479V1013H480V991H481V1013H482V1043H483V1068H484V1090H485V1108H486V1124H487V1115H488V1105H489V1094H490V1082H491V1086H492V1098H493V1106H494V1082H495V1055H496V1023H497V985H498V943H500V985H501V1023H502V1055H503V1082H504V1106H505V1123H506V1129H507V1133H508V1132H509V1128H510V1117H511V1098H512V1077H513V1051H514V1020H515V986H516V969H517V1000H518V1033H519V1062H520V1086H521V1106H522V1124H523V1130H524V1134H525V1136H526V1138H527V1135H528V1132H529V1126H530V1111H531V1094H532V1073H533V1049H534V1021H535V997H536V1015H537V1044H538V1069H539V1090H540V1108H541V1123H542V1131H543V1135H544V1137H545V1135H546V1131H547V1127H548V1112H549V1092H550V1068H551V1041H552V1008H553V974H555V1008H556V1041H557V1068H558V1092H559V1112H560V1127H561V1131H562V1135H563V1133H564V1129H565V1123H566V1104H567V1081H568V1054H569V1022H570V985H571V948H572V961H573V1000H574V1036H575V1065H576V1090H577V1112H578V1126H579V1127H580V1116H581V1104H582V1089H583V1071H584V1053H586V1071H587V1089H588V1104H589V1116H590V1127H591V1135H592V1138H593V1139H594V1141H596V1140H597V1139H598V1137H599V1134H600V1131H601V1124H602V1107H603V1087H604V1063H605V1036H606V1003H607V976H608V996H609V1030H610V1058H611V1082H612V1103H613V1121H614V1120H615V1111H616V1101H617V1090H619V1101H620V1109H621V1091H622V1070H623V1044H624V1015H625V993H626V1015H627V1044H628V1070H629V1091H630V1109H631V1125H632V1132H633V1135H634V1138H635V1139H636V1137H637V1134H638V1129H639V1115H640V1093H641V1067H642V1035H643V998H644V974H645V1005H646V1042H647V1072H648V1098H649V1119H650V1130H651V1134H652V1137H653V1139H654V1136H655V1133H656V1124H657V1106H658V1086H659V1061H660V1031H661V1005H662V1024H663V1055H664V1081H665V1102H666V1120H667V1132H668V1136H669V1138H670V1140H671V1141H672V1139H673V1136H674V1132H675V1119H676V1102H677V1083H678V1059H679V1033H681V1059H682V1083H683V1102H684V1119H685V1132H686V1136H687V1139H689V1136H690V1132H691V1118H692V1101H693V1081H694V1056H695V1029H697V1056H698V1081H699V1101H700V1118H701V1132H702V1130H703V1125H704V1120H705V1115H706V1110H707V1106H708V1101H709V1096H710V1092H711V1088H713V1092H714V1095H715V1074H716V1050H717V1035H718V1055H719V1079H720V1082H721V1078H723V1059H725V1079H726V1078H727V1069H728V1060H729V1052H731V1060H732V1069H733V1061H734V1032H735V1014H736V1038H737V1066H738V1090H739V1109H740V1125H741V1134H742V1135H743V1126H744V1116H745V1104H746V1090H747V1079H748V1090H749V1104H751V1089H752V1071H754V1089H755V1104H756V1117H757V1128H758V1137H759V1133H760V1124H761V1113H762V1100H763V1084H764V1074H765V1087H766V1102H767V1115H768V1102H769V1086H770V1067H772V1086H773V1102H774V1116H775V1127H776V1134H777V1126H778V1116H779V1104H780V1089H781V1080H782V1092H783V1106H784V1118H785V1108H786V1089H787V1066H788V1039H789V1022H790V1045H791V1071H792V1093H793V1111H794V1116H795V1104H796V1089H797V1076H798V1086H799V1101H800V1114H801V1125H803V1110H804V1092H805V1070H806V1043H807V1027H808V1049H809V1074H810V1095H811V1113H812V1128H813V1136H814V1139H815V1141H816V1142H818V1141H819V1139H820V1136H821V1124H822V1111H823V1095H824V1076H825V1055H827V1076H828V1095H829V1111H830V1124H831V1136H832V1139H833V1141H834V1142H835V1140H836V1138H837V1129H838V1119H839V1106H840V1091H841V1075H843V1091H844V1106H845V1119H846V1129H847V1138H848V1140H849V1142H850V1143H851V1141H852V1139H853V1132H854V1123H855V1113H856V1100H857V1087H859V1098H860V1080H861V1060H863V1080H864V1098H865V1113H866V1126H867V1136H868V1139H869V1141H870V1137H871V1129H872V1120H873V1109H874V1096H875V1085H876V1093H877V1106H878V1087H879V1065H880V1041H882V1065H883V1087H884V1106H885V1121H886V1134H887V1138H888V1134H889V1125H890V1114H891V1101H892V1086H893V1076H894V1089H895V1104H896V1108H897V1092H898V1074H899V1062H900V1077H901V1096H902V1111H903V1123H904V1134H905V1139H906V1138H907V1131H908V1123H909V1114H910V1103H911V1096H912V1105H913V1116H914V1125H915V1132H916V1139H917V1142H918V1143H919V1144H920V1143H921V1142H922V1140H923V1132H924V1123H925V1113H926V1100H927V1086H929V1100H930V1113H931V1122H932V1111H933V1099H934V1088H935V1096H936V1109H937V1120H938V1129H939V1136H940V1133H941V1126H942V1117H943V1106H944V1097H945V1104H946V1115H947V1124H948V1132H949V1127H950V1118H951V1107H952V1095H954V1107H955V1118H956V1127H957V1122H958V1112H959V1102H961V1112H962V1122H963V1129H964V1136H965V1142H966V1140H967V1135H968V1126H969V1115H970V1103H971V1087H972V1078H973V1091H974V1105H975V1118H976V1128H977V1123H978V1115H979V1110H980V1117H981V1125H982V1131H983V1137H984V1141H986V1137H987V1129H988V1120H989V1108H990V1095H991V1083H992V1092H993V1106H994V1118H995V1127H996V1136H997V1141H998V1143H999V1142H1000V1140H1001V1132H1002V1123H1003V1112H1004V1099H1005V1085H1007V1099H1008V1100H1009V1083H1010V1068H1011V1079H1012V1096H1013V1111H1014V1123H1015V1134H1016V1140H1017V1142H1018V1144H1019V1145H1020V1146H1022V1147H1026V1148H1042V1149H1049V1148H1054V1147H1055V1146H1056V1145H1057V1144H1058V1142H1059V1134H1060V1124H1061V1113H1062V1099H1063V1084H1065V1099H1066V1113H1067V1124H1068V1134H1069V1142H1070V1138H1071V1131H1072V1123H1073V1112H1074V1101H1076V1112H1077V1123H1078V1131H1079V1138H1080V1145H1081V1146H1082V1147H1083V1148H1085V1147H1086V1146H1087V1142H1088V1137H1089V1130H1090V1121H1091V1111H1092V1105H1093V1113H1094V1123H1095V1131H1096V1133H1097V1125H1098V1116H1099V1105H1101V1116H1102V1125H1103V1133H1104V1138H1105V1131H1106V1123H1107V1113H1108V1107H1109V1115H1110V1125H1111V1132H1112V1139H1113V1144H1114V1147H1115V1148H1116V1149H1118V1148H1119V1145H1120V1141H1121V1136H1122V1130H1123V1123H1124V1118H1125V1124H1126V1131H1127V1137H1128V1142H1129V1146H1130V1143H1131V1138H1132V1131H1133V1123H1134V1113H1135V1107H1136V1115H1137V1125H1138V1132H1139V1137H1140V1132H1141V1126H1143V1132H1144V1137H1145V1142H1146V1145H1147V1148H1148V1149H1150V1148H1151V1146H1152V1144H1153V1136H1154V1127H1155V1116H1156V1103H1157V1088H1159V1103H1160V1116H1161V1127H1162V1136H1163V1144H1164V1146H1165V1144H1166V1138H1167V1132H1168V1124H1169V1115H1170V1109H1171V1117H1172V1126H1173V1118H1174V1107H1175V1100H1176V1109H1177V1120H1178V1130H1179V1137H1180V1144H1181V1147H1182V1148H1183V1149H1184V1150H1186V1151H1196V1150H1198V1149H1200V1147H1201V1143H1202V1138H1203V1131H1204V1123H1205V1115H1207V1123H1208V1131H1209V1132H1210V1124H1211V1114H1212V1108H1213V1116H1214V1125H1215V1133H1216V1140H1217V1145H1218V1148H1219V1149H1220V1150H1222V1149H1223V1148H1224V1146H1225V1140H1226V1133H1227V1125H1228V1115H1229V1104H1231V1115H1232V1125H1233V1133H1234V1140H1235V1142H1236V1137H1237V1130H1238V1122H1239V1113H1241V1122H1242V1130H1243V1137H1244V1133H1245V1126H1246V1118H1248V1126H1249V1133H1250V1139H1251V1144H1253V1140H1254V1135H1255V1128H1256V1121H1258V1128H1259V1135H1260V1140H1261V1143H1262V1138H1263V1132H1264V1124H1265V1116H1267V1124H1268V1132H1269V1138H1271V1133H1272V1126H1273V1122H1274V1127H1275V1134H1276V1139H1277V1144H1278V1146H1279V1142H1280V1136H1281V1130H1282V1123H1283V1118H1284V1124H1285V1132H1286V1138H1287V1141H1288V1136H1289V1130H1290V1127H1291V1132H1292V1137H1293V1141H1294V1145H1295V1148H1296V1150H1297V1151H1300V1152H1309V1151H1312V1150H1313V1149H1314V1147H1315V1143H1316V1138H1317V1132H1318V1125H1319V1121H1320V1127H1321V1133H1322V1139H1323V1144H1324V1147H1325V1150H1327V1151H1329V1152H1330V1151H1333V1150H1334V1149H1335V1148H1336V1144H1337V1138H1338V1131H1339V1123H1340V1112H1341V1106H1342V1114H1343V1124H1344V1133H1345V1140H1346V1145H1347V1148H1348V1147H1349V1143H1350V1139H1351V1134H1352V1128H1354V1134H1355V1139H1356V1140H1357V1134H1358V1127H1359V1119H1361V1127H1362V1134H1363V1140H1364V1144H1365V1149H1366V1150H1367V1151H1371V1150H1372V1148H1373V1144H1374V1140H1375V1135H1376V1128H1377V1123H1378V1127H1379V1134H1380V1139H1381V1144H1382V1147H1383V1145H1384V1140H1385V1135H1386V1128H1387V1121H1389V1128H1390V1135H1391V1140H1392V1143H1393V1138H1394V1132H1395V1124H1396V1120H1397V1126H1398V1133H1399V1139H1400V1144H1401V1148H1402V1150H1403V1151H1405V1152H1406V1151H1408V1150H1409V1146H1410V1142H1411V1137H1412V1131H1413V1125H1415V1131H1416V1137H1417V1142H1418V1143H1419V1139H1420V1134H1421V1128H1423V1134H1424V1139H1425V1143H1426V1147H1427V1150H1428V1151H1430V1152H1434V1153H1446V1149H1447V1140H1448V1131H1450V1140H1451V1149H1452V1153H1453V1149H1454V1142H1455V1135H1457V1142H1458V1149H1459V1153H1464V1149H1465V1142H1466V1134H1468V1142H1469V1149H1471V1141H1472V1133H1474V1141H1475V1149H1476V1153H1482V1149H1483V1141H1484V1133H1486V1141H1487V1149H1488V1153H1499V1150H1500V1143H1501V1136H1503V1143H1504V1150H1505V1153H1516V1150H1517V1143H1518V1136H1520V1143H1521V1150H1522V1153H1523V1150H1524V1142H1525V1135H1527V1142H1528V1150H1529V1153H1534V1150H1535V1142H1536V1134H1538V1142H1539V1150H1540V1153H1552V1150H1553V1144H1554V1138H1556V1144H1557V1150H1558V1153H1559V1150H1560V1144H1561V1137H1563V1144H1564V1150H1565V1153H1569V1150H1570V1143H1571V1137H1573V1143H1574V1150H1575V1154H1577V1150H1578V1143H1579V1136H1581V1143H1582V1150H1583V1154H1595V1151H1596V1145H1597V1140H1599V1145H1600V1151H1601V1154H1602V1151H1603V1145H1604V1139H1606V1145H1607V1151H1608V1154H1614V1151H1615V1144H1616V1138H1618V1144H1619V1151H1620V1154H1631V1151H1632V1144H1633V1138H1635V1144H1636V1151H1637V1154H1648V1151H1649V1146H1650V1142H1652V1146H1653V1151H1654V1154H1665V1151H1666V1146H1667V1141H1669V1146H1670V1151H1671V1154H1683V1151H1684V1146H1685V1141H1687V1146H1688V1151H1689V1154H1699V1151H1700V1146H1701V1140H1703V1146H1704V1151H1705V1154H1710V1152H1711V1148H1712V1144H1714V1148H1715V1152H1717V1147H1718V1143H1720V1147H1721V1152H1722V1154H1736V1152H1737V1147H1738V1143H1740V1147H1741V1152H1742V1154H1743V1152H1744V1147H1745V1142H1747V1147H1748V1152H1749V1154H1751V1152H1752V1149H1753V1145H1755V1149H1756V1152H1757V1154H1768V1152H1769V1149H1770V1145H1772V1149H1773V1152H1774V1154H1779V1152H1780V1148H1781V1144H1783V1148H1784V1152H1786V1148H1787V1143H1789V1148H1790V1152H1791V1154H1809V1155H1814V1153H1815V1150H1816V1147H1818V1150H1819V1153H1820V1150H1821V1147H1823V1150H1824V1153H1825V1155H1830V1153H1831V1149H1832V1146H1834V1149H1835V1153H1836V1155H1849V1153H1850V1149H1851V1146H1853V1149H1854V1153H1855V1155H1857V1154H1858V1151H1859V1149H1861V1151H1862V1154H1863V1155H1868V1153H1869V1151H1870V1148H1872V1151H1873V1153H1874V1155H1901V1154H1902V1151H1903V1149H1905V1151H1906V1154H1907V1155H1915V1154H1916V1151H1917V1148H1919V1151H1920V1154H1921V1155H1929V1155Z" fill="#00ffff"/>
<path d="M240,1155V852H241V843H242V852H243V877H244V914H245V956H246V996H247V1031H248V1058H249V1077H250V1090H251V1098H252V1103H253V1105H254V1101H255V1096H256V1090H257V1083H258V1078H259V1076H261V1079H262V1084H263V1079H264V1059H265V1030H266V991H267V946H268V898H269V855H270V825H271V812H272V820H273V848H274V890H275V891H276V866H277V857H278V866H279V891H280V928H281V970H282V1010H283V1044H284V1071H285V1090H286V1103H287V1111H288V1115H289V1118H290V1120H291V1121H292V1120H293V1119H294V1118H295V1117H296V1113H297V1108H298V1098H299V1081H300V1056H301V1021H302V975H303V922H304V868H305V821H306V790H307V780H308V794H309V830H310V879H311V934H312V987H313V1031H314V1065H315V1089H316V1105H317V1114H318V1120H319V1124H320V1121H321V1117H322V1114H323V1112H325V1114H326V1117H327V1121H328V1125H329V1128H330V1126H331V1123H332V1117H333V1108H334V1093H335V1069H336V1036H337V992H338V940H339V885H340V836H341V800H342V786H343V796H344V827H345V874H346V929H347V982H348V1028H349V1064H350V1090H351V1106H352V1117H353V1123H354V1126H355V1129H356V1130H357V1131H358V1132H359V1133H361V1132H362V1131H363V1130H364V1128H365V1125H366V1120H367V1111H368V1097H369V1074H370V1042H371V1000H372V951H373V898H374V851H375V818H376V804H377V813H378V843H379V888H380V940H381V991H382V1035H383V1069H384V1094H385V1110H386V1120H387V1126H388V1129H389V1131H390V1132H391V1134H393V1135H394V1136H395V1135H396V1134H397V1133H398V1131H399V1129H400V1124H401V1116H402V1102H403V1081H404V1052H405V1014H406V969H407V923H408V882H409V853H410V843H411V853H412V882H413V887H414V907H415V940H416V980H417V1020H418V1055H419V1083H420V1104H421V1117H422V1126H423V1131H424V1134H425V1136H426V1137H427V1138H429V1139H432V1138H433V1137H434V1136H435V1135H436V1133H437V1131H438V1083H439V1034H440V986H441V940H442V901H443V880H444V895H445V932H446V968H447V934H448V916H449V929H450V961H451V1000H452V1041H453V1083H454V1125H455V1134H456V1136H457V1137H458V1138H459V1139H460V1140H462V1141H463V1140H464V1139H465V1138H466V1137H467V1136H468V1135H469V1099H470V1064H471V1029H472V995H473V966H474V951H475V962H476V989H477V1022H478V1057H479V1078H480V1039H481V1000H482V964H483V936H484V930H485V951H486V985H487V1023H488V1062H489V1102H490V1134H491V1136H492V1137H493V1138H494V1139H495V1140H498V1139H499V1138H500V1137H501V1114H502V1086H503V1058H504V1031H505V1006H506V991H507V995H508V1016H509V1041H510V1067H512V1076H513V1089H514V1102H515V1061H516V1021H517V983H518V949H519V927H520V933H521V962H522V998H523V1037H524V1078H525V1118H526V1135H527V1136H528V1138H529V1139H532V1137H533V1113H534V1089H535V1066H536V1044H537V1026H538V1017H539V1026H540V1044H541V1066H542V1089H543V1101H544V1093H545V1088H546V1091H547V1099H548V1109H549V1119H550V1106H551V1074H552V1044H553V1015H554V989H555V976H556V985H557V1009H558V1032H559V1010H560V998H561V1006H562V1027H563V1052H564V1078H565V1105H566V1103H567V1085H568V1068H569V1053H570V1045H571V1051H572V1065H573V1082H574V1100H575V1118H576V1122H577V1115H578V1110H579V1107H580V1110H581V1115H582V1122H583V1129H584V1136H585V1139H586V1138H587V1130H588V1101H589V1073H590V1046H591V1020H592V999H593V993H594V1007H595V1030H596V1057H597V1084H598V1105H599V1093H600V1082H601V1077H602V1081H603V1090H604V1102H605V1114H606V1127H607V1140H608V1143H609V1140H610V1134H611V1129H612V1124H613V1120H614V1117H615V1118H616V1122H617V1127H618V1132H619V1137H620V1140H621V1139H622V1138H623V1137H624V1112H625V1080H626V1048H627V1018H628V991H629V974H630V979H631V1001H632V1030H633V1061H634V1093H635V1124H636V1138H637V1139H638V1140H639V1141H641V1142H644V1140H645V1137H646V1133H647V1129H648V1126H649V1130H650V1134H651V1138H652V1140H654V1135H655V1127H656V1116H657V1104H658V1089H659V1076H660V1086H661V1096H662V1070H663V1038H664V999H665V966H666V991H667V1030H668V1064H669V1091H670V1114H671V1129H672V1134H673V1138H674V1140H675V1142H676V1143H677V1144H679V1142H680V1140H681V1138H682V1135H683V1133H684V1135H685V1138H686V1141H687V1143H688V1144H690V1143H691V1142H692V1140H693V1138H694V1135H695V1131H696V1119H697V1096H698V1070H699V1038H700V999H701V966H702V991H703V1030H704V1064H705V1091H706V1115H707V1129H708V1134H709V1138H710V1140H711V1142H712V1143H713V1144H715V1145H718V1146H720V1145H722V1144H724V1141H725V1137H726V1132H727V1126H728V1119H729V1115H730V1121H731V1128H733V1109H734V1085H735V1055H736V1020H737V979H738V965H739V1004H740V1042H741V1074H742V1100H743V1122H744V1131H745V1136H746V1139H747V1141H748V1142H749V1143H750V1144H751V1143H752V1141H753V1139H754V1137H755V1135H756V1137H757V1140H758V1142H759V1143H760V1145H762V1144H763V1143H764V1142H765V1140H766V1138H767V1135H768V1130H769V1114H770V1091H771V1063H772V1029H773V989H774V964H775V997H776V1037H777V1069H778V1096H779V1119H780V1131H781V1135H782V1139H783V1140H784V1138H785V1139H786V1141H787V1143H788V1144H789V1145H790V1146H794V1145H795V1144H796V1142H797V1140H798V1137H799V1135H801V1137H802V1138H803V1135H804V1130H805V1115H806V1092H807V1064H808V1031H809V991H810V966H811V999H812V1038H813V1070H814V1097H815V1119H816V1131H817V1136H818V1139H819V1141H820V1143H821V1144H822V1145H825V1146H829V1145H830V1144H831V1143H832V1141H833V1139H834V1138H835V1140H836V1142H837V1141H838V1139H839V1136H840V1132H841V1120H842V1098H843V1073H844V1042H845V1004H846V972H847V996H848V1035H849V1067H850V1094H851V1116H852V1131H853V1136H854V1139H855V1141H856V1143H857V1144H858V1145H860V1146H864V1147H865V1146H870V1145H871V1144H872V1143H873V1142H874V1140H875V1137H876V1133H877V1122H878V1102H879V1078H880V1049H881V1014H882V984H883V1006H884V1042H885V1073H886V1098H887V1119H888V1132H889V1136H890V1140H891V1142H892V1143H893V1144H894V1145H895V1146H899V1147H903V1146H907V1145H908V1144H909V1143H910V1141H911V1139H912V1135H913V1126H914V1108H915V1087H916V1061H917V1030H918V1004H919V1024H920V1055H921V1082H922V1104H923V1122H924V1134H925V1138H926V1141H927V1143H928V1144H929V1145H930V1146H933V1147H942V1146H945V1145H946V1144H947V1143H948V1140H949V1138H950V1129H951V1115H952V1098H953V1078H954V1054H955V1039H956V1059H957V1082H958V1102H959V1118H960V1131H961V1138H962V1141H963V1143H964V1144H965V1145H966V1146H968V1147H975V1148H977V1147H982V1146H984V1145H985V1143H986V1140H987V1134H988V1126H989V1117H990V1106H991V1097H992V1104H993V1115H994V1125H995V1132H996V1139H997V1142H998V1139H999V1137H1001V1139H1002V1142H1003V1143H1004V1142H1005V1140H1007V1142H1010V1140H1011V1139H1012V1136H1013V1133H1014V1130H1015V1127H1016V1123H1017V1120H1018V1116H1019V1108H1020V1099H1021V1082H1022V1056H1023V1031H1024V992H1025V940H1026V887H1027V838H1028V814H1029V813H1030V812H1036V816H1037V824H1038V832H1039V843H1040V854H1041V865H1042V872H1043V878H1044V882H1045V888H1046V900H1047V921H1048V942H1049V961H1050V980H1051V995H1052V1008H1053V1021H1054V1034H1055V1047H1056V1054H1057V1062H1058V1070H1059V1077H1060V1085H1061V1091H1062V1095H1063V1099H1064V1103H1065V1107H1066V1111H1067V1115H1068V1118H1069V1121H1070V1124H1071V1126H1072V1129H1073V1131H1074V1134H1075V1137H1076V1139H1077V1133H1078V1115H1079V1094H1080V1067H1081V1035H1082V1015H1083V1042H1084V1073H1085V1099H1086V1120H1087V1137H1088V1141H1089V1145H1090V1147H1091V1149H1092V1150H1093V1151H1094V1152H1096V1153H1098V1154H1106V1153H1108V1152H1109V1151H1110V1149H1111V1147H1112V1143H1113V1135H1114V1114H1115V1089H1116V1058H1117V1020H1118V996H1119V1028H1120V1065H1121V1094H1122V1119H1123V1138H1124V1144H1125V1147H1126V1149H1127V1151H1128V1152H1129V1153H1131V1154H1142V1153H1144V1152H1145V1150H1146V1149H1147V1146H1148V1142H1149V1134H1150V1111H1151V1083H1152V1050H1153V1009H1154V983H1155V1018H1156V1057H1157V1089H1158V1116H1159V1137H1160V1143H1161V1146H1162V1149H1163V1151H1164V1152H1165V1153H1167V1154H1177V1153H1179V1152H1180V1151H1181V1149H1182V1147H1183V1143H1184V1138H1185V1122H1186V1096H1187V1063H1188V1023H1189V978H1191V1023H1192V1063H1193V1096H1194V1122H1195V1138H1196V1143H1197V1147H1198V1149H1199V1151H1200V1152H1201V1153H1203V1154H1213V1153H1215V1152H1216V1150H1217V1149H1218V1146H1219V1142H1220V1136H1221V1113H1222V1085H1223V1050H1224V1008H1225V971H1226V999H1227V1042H1228V1079H1229V1108H1230V1132H1231V1141H1232V1145H1233V1148H1234V1150H1235V1151H1236V1152H1237V1153H1239V1154H1249V1153H1250V1152H1252V1150H1253V1148H1254V1146H1255V1141H1256V1135H1257V1112H1258V1083H1259V1047H1260V1003H1261V965H1262V994H1263V1039H1264V1076H1265V1106H1266V1132H1267V1140H1268V1145H1269V1148H1270V1150H1271V1151H1272V1152H1273V1153H1275V1154H1284V1153H1286V1152H1288V1150H1289V1148H1290V1145H1291V1141H1292V1135H1293V1111H1294V1081H1295V1045H1296V1001H1297V962H1298V991H1299V1037H1300V1075H1301V1105H1302V1131H1303V1140H1304V1145H1305V1148H1306V1150H1307V1151H1308V1152H1309V1153H1311V1154H1321V1153H1323V1152H1324V1151H1325V1150H1326V1148H1327V1145H1328V1140H1329V1131H1330V1105H1331V1075H1332V1037H1333V991H1334V962H1335V1001H1336V1045H1337V1081H1338V1111H1339V1135H1340V1141H1341V1145H1342V1148H1343V1150H1344V1152H1346V1153H1348V1154H1357V1153H1359V1152H1360V1151H1361V1150H1362V1148H1363V1145H1364V1140H1365V1132H1366V1106H1367V1076H1368V1039H1369V994H1370V965H1371V1003H1372V1047H1373V1083H1374V1112H1375V1135H1376V1141H1377V1146H1378V1148H1379V1150H1380V1152H1382V1153H1383V1154H1393V1153H1395V1152H1397V1150H1398V1148H1399V1145H1400V1141H1401V1132H1402V1108H1403V1079H1404V1043H1405V1000H1406V972H1407V1009H1408V1051H1409V1085H1410V1113H1411V1136H1412V1142H1413V1146H1414V1149H1415V1150H1416V1152H1417V1153H1419V1154H1432V1153H1433V1152H1434V1151H1435V1149H1436V1146H1437V1140H1438V1125H1439V1096H1440V1059H1441V1013H1442V983H1443V1023H1444V1067H1445V1102H1446V1130H1447V1142H1448V1146H1449V1149H1450V1151H1451V1152H1452V1153H1453V1154H1458V1155H1463V1154H1468V1153H1469V1152H1470V1151H1471V1149H1472V1146H1473V1142H1474V1127H1475V1100H1476V1067H1477V1025H1478V997H1479V1034H1480V1074H1481V1106H1482V1132H1483V1143H1484V1147H1485V1150H1486V1151H1487V1153H1489V1154H1494V1155H1500V1154H1504V1153H1506V1152H1507V1150H1508V1147H1509V1143H1510V1130H1511V1106H1512V1076H1513V1039H1514V1014H1515V1047H1516V1083H1517V1112H1518V1135H1519V1144H1520V1148H1521V1150H1522V1152H1523V1153H1525V1154H1529V1155H1536V1154H1541V1153H1542V1152H1543V1151H1544V1148H1545V1145H1546V1134H1547V1113H1548V1087H1549V1054H1550V1033H1551V1061H1552V1093H1553V1117H1554V1137H1555V1146H1556V1149H1557V1151H1558V1152H1559V1153H1560V1154H1564V1155H1573V1154H1578V1153H1579V1152H1580V1150H1581V1148H1582V1144H1583V1129H1584V1108H1585V1082H1586V1052H1588V1082H1589V1108H1590V1129H1591V1144H1592V1148H1593V1150H1594V1152H1595V1153H1596V1154H1601V1155H1610V1154H1614V1153H1615V1152H1616V1150H1617V1148H1618V1140H1619V1126H1620V1108H1621V1085H1622V1070H1623V1090H1624V1112H1625V1129H1626V1143H1627V1148H1628V1151H1629V1152H1630V1153H1631V1154H1635V1155H1647V1154H1650V1153H1652V1151H1653V1149H1654V1144H1655V1132H1656V1118H1657V1099H1658V1082H1659V1095H1660V1114H1661V1130H1662V1142H1663V1149H1664V1151H1665V1152H1666V1153H1667V1154H1670V1155H1684V1154H1687V1153H1688V1152H1689V1150H1690V1146H1691V1137H1692V1124H1693V1109H1694V1095H1695V1106H1696V1122H1697V1134H1698V1144H1699V1150H1700V1152H1701V1153H1702V1154H1706V1155H1720V1154H1723V1153H1725V1151H1726V1148H1727V1141H1728V1131H1729V1119H1730V1108H1731V1116H1732V1129H1733V1139H1734V1147H1735V1151H1736V1152H1737V1153H1738V1154H1741V1155H1757V1154H1760V1153H1761V1152H1762V1150H1763V1144H1764V1137H1765V1128H1766V1120H1767V1126H1768V1135H1769V1143H1770V1149H1771V1152H1772V1153H1773V1154H1776V1155H1794V1154H1797V1153H1798V1151H1799V1147H1800V1142H1801V1135H1802V1130H1803V1135H1804V1142H1805V1147H1806V1151H1807V1153H1808V1154H1811V1155H1831V1154H1834V1152H1835V1149H1836V1146H1837V1142H1838V1138H1839V1142H1840V1146H1841V1149H1842V1152H1843V1154H1846V1155H1859V1154H1868V1153H1870V1152H1872V1151H1873V1150H1874V1145H1875V1139H1876V1133H1877V1128H1878V1123H1879V1128H1880V1133H1881V1139H1882V1142H1883V1141H1884V1142H1885V1144H1886V1146H1887V1148H1889V1149H1890V1150H1891V1151H1892V1152H1893V1153H1894V1154H1901V1155H1907V1154H1908V1153H1909V1152H1910V1150H1911V1148H1913V1150H1914V1152H1915V1153H1916V1154H1917V1155H1929V1155Z" fill="#000000"/>
<path d="M240,1155V1147H242V1148H252V1149H266V1150H285V1151H348V1152H440V1153H590V1154H850V1155H1929V1155Z" fill="#a52a2a"/>
<path d="M240,1155H479V1154H480V1153H481V1152H483V1151H484V1150H485V1149H486V1148H505V1147H542V1146H595V1145H665V1146H703V1145H710V1144H717V1143H721V1142H723V1141H724V1140H726V1139H728V1138H729V1137H731V1136H733V1137H734V1138H736V1139H737V1140H738V1141H740V1142H741V1143H755V1142H757V1140H759V1138H760V1137H761V1134H762V1132H763V1129H764V1125H765V1118H766V1112H767V1107H768V1112H769V1119H770V1128H771V1133H772V1136H773V1139H774V1142H775V1143H776V1144H778V1145H779V1146H785V1147H795V1148H825V1147H875V1146H1023V1147H1056V1146H1079V1145H1145V1144H1309V1145H1326V1146H1336V1145H1338V1144H1340V1143H1343V1142H1345V1141H1347V1140H1349V1141H1351V1142H1353V1143H1355V1144H1357V1145H1359V1146H1363V1145H1367V1144H1373V1143H1377V1142H1381V1141H1384V1140H1387V1139H1389V1140H1391V1141H1393V1142H1395V1143H1397V1142H1398V1141H1399V1140H1401V1139H1402V1138H1403V1139H1404V1140H1405V1141H1406V1142H1407V1143H1408V1144H1409V1145H1410V1146H1413V1145H1417V1144H1423V1143H1426V1142H1428V1141H1429V1140H1431V1139H1433V1138H1435V1137H1436V1136H1437V1135H1438V1134H1439V1133H1440V1132H1441V1131H1442V1130H1443V1133H1444V1135H1445V1138H1446V1141H1447V1142H1448V1143H1449V1144H1450V1145H1452V1146H1453V1147H1454V1148H1545V1147H1591V1148H1592V1149H1593V1150H1594V1151H1596V1152H1597V1153H1598V1154H1599V1155H1929V1155Z" fill="#800000"/>
<path d="M240,1155H325V1154H327V1152H329V1151H330V1150H331V1149H333V1148H334V1147H336V1146H338V1145H339V1144H341V1143H342V1142H343V1141H344V1139H345V1137H346V1136H347V1134H348V1132H349V1130H350V1128H351V1126H352V1125H353V1123H354V1121H355V1118H356V1113H357V1109H358V1105H359V1100H360V1096H361V1092H362V1087H363V1079H364V1072H365V1064H366V1057H367V1047H368V1036H369V1025H370V1013H371V1023H372V1047H373V1080H374V1125H375V1150H376V1153H377V1155H506V1151H507V1152H508V1153H509V1154H510V1155H520V1154H521V1153H522V1152H523V1151H524V1150H525V1151H527V1153H528V1154H529V1155H539V1154H540V1153H541V1152H542V1151H543V1150H545V1151H546V1152H547V1153H548V1154H559V1153H560V1151H561V1150H565V1152H566V1153H567V1154H577V1153H578V1152H579V1151H580V1150H581V1149H583V1150H584V1151H585V1152H586V1154H592V1153H597V1152H598V1151H599V1149H602V1150H603V1151H604V1152H605V1153H616V1152H617V1150H618V1149H619V1148H620V1149H622V1150H623V1152H624V1153H634V1152H635V1151H636V1150H637V1149H638V1148H640V1149H641V1150H642V1151H643V1152H654V1151H655V1150H656V1148H660V1151H662V1152H673V1151H675V1150H679V1151H681V1152H692V1151H693V1150H699V1151H712V1150H715V1149H716V1150H718V1151H731V1150H733V1149H735V1150H737V1151H750V1150H752V1149H754V1150H756V1151H769V1150H771V1149H774V1150H776V1151H788V1150H790V1149H793V1150H795V1151H807V1150H809V1149H812V1150H814V1151H826V1150H828V1149H831V1150H833V1151H845V1150H847V1149H850V1150H852V1151H864V1150H866V1149H869V1150H871V1151H883V1150H885V1149H889V1150H890V1151H903V1150H908V1151H929V1152H941V1151H946V1152H960V1153H993V1154H1055V1155H1913V1154H1915V1153H1917V1152H1921V1151H1923V1150H1927V1149H1929V1155Z" fill="#ffa000"/>
<path d="M240,1155H925V1154H990V1153H1047V1152H1083V1151H1115V1150H1252V1149H1255V1148H1258V1147H1262V1148H1265V1149H1268V1150H1318V1149H1319V1148H1320V1146H1321V1144H1322V1143H1323V1141H1324V1139H1325V1137H1326V1135H1328V1137H1329V1139H1330V1141H1331V1143H1332V1144H1333V1146H1334V1148H1335V1149H1336V1150H1401V1149H1404V1148H1406V1147H1409V1146H1411V1145H1414V1144H1416V1143H1419V1142H1420V1141H1421V1140H1422V1138H1423V1137H1424V1136H1425V1134H1426V1133H1427V1132H1428V1130H1429V1129H1430V1126H1431V1122H1432V1118H1433V1114H1434V1110H1435V1108H1436V1104H1437V1106H1438V1112H1439V1119H1440V1126H1441V1135H1442V1145H1443V1150H1444V1151H1445V1152H1573V1151H1579V1150H1585V1149H1590V1148H1594V1147H1691V1146H1695V1145H1697V1144H1701V1143H1702V1142H1704V1140H1706V1138H1710V1140H1712V1142H1714V1143H1715V1144H1716V1145H1718V1146H1720V1147H1721V1148H1732V1149H1751V1150H1771V1151H1790V1152H1825V1153H1873V1152H1877V1151H1879V1152H1883V1153H1888V1152H1893V1151H1894V1148H1895V1146H1896V1139H1897V1133H1898V1127H1899V1133H1900V1139H1901V1146H1902V1148H1903V1151H1904V1152H1906V1153H1908V1154H1929V1155Z" fill="#ffbe9e"/>
<path d="M240,1155H499V1151H500V1150H501V1147H502V1142H503V1133H504V1119H505V1096H506V1057H507V1075H508V1107H509V1126H510V1137H511V1144H512V1148H513V1151H514V1152H515V1155H528V1151H529V1149H530V1144H531V1138H532V1126H533V1138H534V1144H535V1149H536V1151H537V1155H653V1152H654V1150H655V1147H656V1142H657V1134H658V1120H659V1097H660V1116H661V1132H662V1141H663V1146H664V1150H665V1152H666V1155H686V1152H687V1150H688V1147H689V1142H690V1133H691V1119H692V1095H693V1065H694V1101H695V1122H696V1135H697V1143H698V1147H699V1150H700V1152H701V1155H741V1151H742V1149H743V1145H744V1139H745V1129H746V1111H747V1126H748V1137H749V1144H750V1148H751V1151H752V1155H857V1151H858V1149H859V1146H860V1141H861V1133H862V1119H863V1096H864V1057H865V1008H866V1066H867V1102H868V1123H869V1135H870V1143H871V1147H872V1150H873V1151H874V1155H1039V1152H1040V1150H1041V1152H1042V1155H1079V1150H1080V1147H1081V1143H1082V1135H1083V1121H1085V1135H1086V1143H1087V1147H1088V1150H1089V1155H1122V1151H1123V1149H1124V1146H1125V1141H1126V1132H1127V1118H1128V1094H1129V1054H1130V1003H1131V1063H1132V1100H1133V1122H1134V1135H1135V1142H1136V1147H1137V1150H1138V1151H1139V1155H1164V1152H1165V1150H1166V1147H1167V1141H1168V1132H1170V1141H1171V1147H1172V1150H1173V1152H1174V1155H1183V1152H1184V1151H1185V1148H1186V1145H1187V1139H1188V1129H1189V1113H1190V1086H1191V1040H1192V983H1193V1051H1194V1092H1195V1117H1196V1132H1197V1141H1198V1146H1199V1149H1200V1151H1201V1149H1202V1145H1203V1138H1205V1145H1206V1149H1207V1151H1208V1155H1291V1150H1292V1147H1293V1142H1294V1133H1295V1140H1296V1146H1297V1150H1298V1152H1299V1155H1302V1151H1303V1148H1304V1144H1305V1137H1306V1124H1307V1109H1308V1127H1309V1138H1310V1145H1311V1149H1312V1151H1313V1155H1411V1151H1412V1148H1413V1143H1414V1136H1415V1124H1416V1103H1418V1124H1419V1136H1420V1143H1421V1148H1422V1151H1423V1155H1541V1151H1542V1149H1543V1145H1544V1138H1545V1127H1547V1138H1548V1145H1549V1149H1550V1151H1551V1155H1558V1151H1559V1148H1560V1143H1561V1137H1562V1144H1563V1148H1564V1151H1565V1155H1803V1152H1804V1149H1805V1146H1806V1140H1807V1130H1808V1121H1809V1135H1810V1143H1811V1148H1812V1150H1813V1155H1862V1150H1863V1148H1864V1143H1865V1135H1866V1121H1867V1135H1868V1143H1869V1148H1870V1150H1871V1155H1929V1155Z" fill="#0000ff"/>
<path d="M240,1155H275V1154H276V1153H277V1150H278V1146H279V1141H280V1132H281V1125H282V1136H283V1143H284V1148H285V1151H286V1154H287V1155H343V1154H344V1152H345V1150H346V1146H347V1141H348V1132H350V1141H351V1146H352V1150H353V1152H354V1154H355V1155H411V1154H412V1152H413V1150H414V1148H415V1143H416V1138H417V1144H418V1148H419V1151H420V1153H421V1154H422V1155H479V1154H480V1153H481V1152H482V1150H483V1147H484V1142H485V1146H486V1149H487V1152H488V1153H489V1154H490V1155H547V1154H549V1153H550V1151H551V1149H552V1146H553V1149H554V1151H555V1153H556V1154H557V1155H616V1154H618V1153H619V1151H620V1149H621V1150H622V1152H623V1153H624V1154H625V1155H685V1154H686V1153H688V1151H689V1152H690V1153H691V1154H693V1155H753V1154H755V1153H756V1152H757V1153H758V1154H760V1155H1929V1155Z" fill="#808000"/>
<path d="M240,1155H1004V1154H1005V1153H1006V1151H1007V1150H1008V1148H1009V1149H1010V1151H1011V1152H1012V1154H1013V1155H1404V1154H1405V1152H1406V1151H1407V1150H1409V1151H1410V1152H1411V1154H1412V1155H1815V1154H1817V1153H1818V1152H1820V1153H1821V1154H1823V1155H1929V1155Z" fill="#ff00ff"/>
<rect x="244" y="1154" width="7" height="1" fill="#ff00ff"/>
<rect x="252" y="1154" width="3" height="1" fill="#ff00ff"/>
<rect x="256" y="1154" width="5" height="1" fill="#ff00ff"/>
<rect x="263" y="1154" width="12" height="1" fill="#ff00ff"/>
<rect x="291" y="1154" width="4" height="1" fill="#ff00ff"/>
<rect x="302" y="1154" width="4" height="1" fill="#ff00ff"/>
<rect x="312" y="1154" width="4" height="1" fill="#ff00ff"/>
<rect x="340" y="1154" width="4" height="1" fill="#ff00ff"/>
<rect x="360" y="1154" width="4" height="1" fill="#ff00ff"/>
<rect x="420" y="1154" width="4" height="1" fill="#ff00ff"/>
<rect x="470" y="1154" width="3" height="1" fill="#ff00ff"/>
<rect x="640" y="1154" width="4" height="1" fill="#ff00ff"/>
<rect x="673" y="1154" width="4" height="1" fill="#ff00ff"/>
</g>
<g shape-rendering="crispEdges">
<rect x="240" y="1155" width="1689" height="3" fill="#000"/>
<rect x="240" y="1157" width="1" height="12" fill="#000"/>
<rect x="324" y="1157" width="1" height="6" fill="#000"/>
<rect x="409" y="1157" width="1" height="6" fill="#000"/>
<rect x="493" y="1157" width="1" height="6" fill="#000"/>
<rect x="578" y="1157" width="1" height="12" fill="#000"/>
<rect x="662" y="1157" width="1" height="6" fill="#000"/>
<rect x="746" y="1157" width="1" height="6" fill="#000"/>
<rect x="831" y="1157" width="1" height="6" fill="#000"/>
<rect x="915" y="1157" width="1" height="12" fill="#000"/>
<rect x="1000" y="1157" width="1" height="6" fill="#000"/>
<rect x="1084" y="1157" width="1" height="6" fill="#000"/>
<rect x="1168" y="1157" width="1" height="6" fill="#000"/>
<rect x="1253" y="1157" width="1" height="12" fill="#000"/>
<rect x="1337" y="1157" width="1" height="6" fill="#000"/>
<rect x="1422" y="1157" width="1" height="6" fill="#000"/>
<rect x="1506" y="1157" width="1" height="6" fill="#000"/>
<rect x="1590" y="1157" width="1" height="12" fill="#000"/>
<rect x="1675" y="1157" width="1" height="6" fill="#000"/>
<rect x="1759" y="1157" width="1" height="6" fill="#000"/>
<rect x="1844" y="1157" width="1" height="6" fill="#000"/>
<rect x="1928" y="1157" width="1" height="12" fill="#000"/>
</g>
<text transform="translate(229.5,747) scale(1.03,1)" font-size="31.5" text-anchor="end" fill="#000" stroke="#000" stroke-width="0.7">4000</text>
<text transform="translate(229.5,845) scale(1.03,1)" font-size="31.5" text-anchor="end" fill="#000" stroke="#000" stroke-width="0.7">3000</text>
<text transform="translate(229.5,954) scale(1.03,1)" font-size="31.5" text-anchor="end" fill="#000" stroke="#000" stroke-width="0.7">2000</text>
<text transform="translate(229.5,1062) scale(1.03,1)" font-size="31.5" text-anchor="end" fill="#000" stroke="#000" stroke-width="0.7">1000</text>
<text transform="translate(229.5,1156) scale(1.03,1)" font-size="31.5" text-anchor="end" fill="#000" stroke="#000" stroke-width="0.7">0</text>
<rect x="218" y="738" width="55" height="38" fill="#00ffff" shape-rendering="crispEdges"/>
<rect x="222" y="741" width="47" height="32" fill="#fff" shape-rendering="crispEdges"/>
<text transform="translate(246,765) scale(1.04,1)" font-size="31" text-anchor="middle" fill="#00ffff" stroke="#00ffff" stroke-width="0.7">O3</text>
<rect x="323" y="738" width="95" height="38" fill="#ffa000" shape-rendering="crispEdges"/>
<rect x="327" y="741" width="87" height="32" fill="#fff" shape-rendering="crispEdges"/>
<text transform="translate(371,765) scale(1.04,1)" font-size="31" text-anchor="middle" fill="#ffa000" stroke="#ffa000" stroke-width="0.7">HNO3</text>
<rect x="699" y="738" width="135" height="38" fill="#800000" shape-rendering="crispEdges"/>
<rect x="703" y="741" width="127" height="32" fill="#fff" shape-rendering="crispEdges"/>
<text transform="translate(767,765) scale(1.04,1)" font-size="31" text-anchor="middle" fill="#800000" stroke="#800000" stroke-width="0.7">CLONO2</text>
<rect x="992" y="738" width="75" height="38" fill="#000000" shape-rendering="crispEdges"/>
<rect x="996" y="741" width="67" height="32" fill="#fff" shape-rendering="crispEdges"/>
<text transform="translate(1030,765) scale(1.04,1)" font-size="31" text-anchor="middle" fill="#000000" stroke="#000000" stroke-width="0.7">CO2</text>
<rect x="1154" y="738" width="75" height="38" fill="#0000ff" shape-rendering="crispEdges"/>
<rect x="1158" y="741" width="67" height="32" fill="#fff" shape-rendering="crispEdges"/>
<text transform="translate(1192,765) scale(1.04,1)" font-size="31" text-anchor="middle" fill="#0000ff" stroke="#0000ff" stroke-width="0.7">H2O</text>
<rect x="1399" y="738" width="75" height="38" fill="#ffbe9e" shape-rendering="crispEdges"/>
<rect x="1403" y="741" width="67" height="32" fill="#fff" shape-rendering="crispEdges"/>
<text transform="translate(1437,765) scale(1.04,1)" font-size="31" text-anchor="middle" fill="#ffbe9e" stroke="#ffbe9e" stroke-width="0.7">F22</text>
<rect x="192" y="777" width="95" height="38" fill="#a52a2a" shape-rendering="crispEdges"/>
<rect x="196" y="780" width="87" height="32" fill="#fff" shape-rendering="crispEdges"/>
<text transform="translate(240,804) scale(1.04,1)" font-size="31" text-anchor="middle" fill="#a52a2a" stroke="#a52a2a" stroke-width="0.7">N2O5</text>
<rect x="971" y="777" width="75" height="38" fill="#ff00ff" shape-rendering="crispEdges"/>
<rect x="975" y="780" width="67" height="32" fill="#fff" shape-rendering="crispEdges"/>
<text transform="translate(1009,804) scale(1.04,1)" font-size="31" text-anchor="middle" fill="#ff00ff" stroke="#ff00ff" stroke-width="0.7">NO2</text>
<rect x="243" y="816" width="75" height="38" fill="#808000" shape-rendering="crispEdges"/>
<rect x="247" y="819" width="67" height="32" fill="#fff" shape-rendering="crispEdges"/>
<text transform="translate(281,843) scale(1.04,1)" font-size="31" text-anchor="middle" fill="#808000" stroke="#808000" stroke-width="0.7">HCN</text>
<text transform="translate(1085.5,700) scale(1.061,1)" font-size="38.2" text-anchor="middle" fill="#000" stroke="#000" stroke-width="0.7">Radiance spectra at 12 km tangent height</text>
<text transform="translate(299.9,1210) scale(1.03,1)" font-size="31.5" text-anchor="middle" fill="#000" stroke="#000" stroke-width="0.7">760</text>
<text transform="translate(762.96,1210) scale(1.03,1)" font-size="31.5" text-anchor="middle" fill="#000" stroke="#000" stroke-width="0.7">780</text>
<text transform="translate(1226.02,1210) scale(1.03,1)" font-size="31.5" text-anchor="middle" fill="#000" stroke="#000" stroke-width="0.7">800</text>
<text transform="translate(1689.08,1210) scale(1.03,1)" font-size="31.5" text-anchor="middle" fill="#000" stroke="#000" stroke-width="0.7">820</text>
<text transform="translate(944.5,1257) scale(1.02,1)" font-size="31.8" text-anchor="start" fill="#000" stroke="#000" stroke-width="0.7">Wavenumber [cm</text>
<text transform="translate(1197.3,1242.4) scale(1.2,1)" font-size="17.6" text-anchor="start" fill="#000" stroke="#000" stroke-width="0.7">-1</text>
<text transform="translate(1215.8,1257) scale(1.02,1)" font-size="31.8" text-anchor="start" fill="#000" stroke="#000" stroke-width="0.7">]</text>
<text transform="translate(121.6,939) rotate(-90) scale(0.99,1)" font-size="32.6" text-anchor="middle" fill="#000" stroke="#000" stroke-width="0.7">Radiance [nW/(cm<tspan font-size="20.4" dy="-20">2</tspan><tspan dy="20"> sr cm</tspan><tspan font-size="20.4" dy="-20">-1</tspan><tspan dy="20">)]</tspan></text>
</svg></body></html>
